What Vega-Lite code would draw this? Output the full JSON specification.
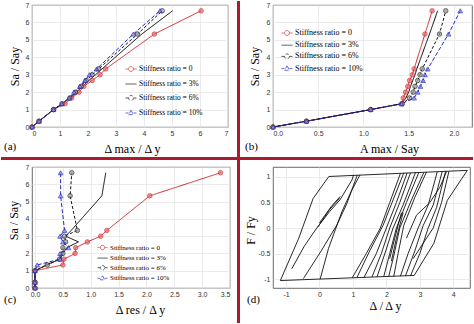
{
"$schema":"https://vega.github.io/schema/vega-lite/v6.json",
"padding":0,
"background":"white",
"columns":2,
"spacing":{"row":40,"column":43},
"bounds":"flush",
"align":"none",
"resolve":{"scale":{"color":"independent","strokeDash":"independent","shape":"independent"},"legend":{"color":"independent","strokeDash":"independent","shape":"independent"}},
"config":{
"view":{"stroke":"#444444","strokeWidth":0.8},
"axis":{"labelFont":"Liberation Sans","labelFontSize":7,"labelColor":"#333333","ticks":false,"domain":false,"grid":true,"gridColor":"#e2e2e2","gridWidth":0.7,"titleFont":"Liberation Serif","titleFontSize":12,"titleFontWeight":"normal","titleColor":"#000000"},
"legend":{"labelFont":"Liberation Serif","labelColor":"#000000","symbolStrokeWidth":1,"labelOffset":2,"padding":0},
"title":{"font":"Liberation Serif","fontSize":11,"fontWeight":"normal","color":"#000000"}
},
"datasets":{
"a":[
{"s":"Stiffness ratio = 0","x":0,"y":0},{"s":"Stiffness ratio = 0","x":0.25,"y":0.333},{"s":"Stiffness ratio = 0","x":0.77,"y":1},{"s":"Stiffness ratio = 0","x":1.18,"y":1.333},{"s":"Stiffness ratio = 0","x":1.42,"y":1.667},{"s":"Stiffness ratio = 0","x":1.68,"y":2},{"s":"Stiffness ratio = 0","x":1.85,"y":2.333},{"s":"Stiffness ratio = 0","x":2.15,"y":2.667},{"s":"Stiffness ratio = 0","x":2.43,"y":3},{"s":"Stiffness ratio = 0","x":2.63,"y":3.333},{"s":"Stiffness ratio = 0","x":4.37,"y":5.333},{"s":"Stiffness ratio = 0","x":6.04,"y":6.667},
{"s":"Stiffness ratio = 3%","x":0,"y":0},{"s":"Stiffness ratio = 3%","x":0.25,"y":0.333},{"s":"Stiffness ratio = 3%","x":0.77,"y":1},{"s":"Stiffness ratio = 3%","x":1.08,"y":1.333},{"s":"Stiffness ratio = 3%","x":1.37,"y":1.667},{"s":"Stiffness ratio = 3%","x":1.6,"y":2},{"s":"Stiffness ratio = 3%","x":1.8,"y":2.333},{"s":"Stiffness ratio = 3%","x":2.03,"y":2.667},{"s":"Stiffness ratio = 3%","x":2.27,"y":3},{"s":"Stiffness ratio = 3%","x":2.5,"y":3.333},{"s":"Stiffness ratio = 3%","x":3.92,"y":5.333},{"s":"Stiffness ratio = 3%","x":5.02,"y":6.667},
{"s":"Stiffness ratio = 6%","x":0,"y":0},{"s":"Stiffness ratio = 6%","x":0.25,"y":0.333},{"s":"Stiffness ratio = 6%","x":0.77,"y":1},{"s":"Stiffness ratio = 6%","x":1.07,"y":1.333},{"s":"Stiffness ratio = 6%","x":1.35,"y":1.667},{"s":"Stiffness ratio = 6%","x":1.55,"y":2},{"s":"Stiffness ratio = 6%","x":1.75,"y":2.333},{"s":"Stiffness ratio = 6%","x":1.93,"y":2.667},{"s":"Stiffness ratio = 6%","x":2.15,"y":3},{"s":"Stiffness ratio = 6%","x":2.38,"y":3.333},{"s":"Stiffness ratio = 6%","x":3.77,"y":5.333},{"s":"Stiffness ratio = 6%","x":4.65,"y":6.667},
{"s":"Stiffness ratio = 10%","x":0,"y":0},{"s":"Stiffness ratio = 10%","x":0.25,"y":0.333},{"s":"Stiffness ratio = 10%","x":0.77,"y":1},{"s":"Stiffness ratio = 10%","x":1.06,"y":1.333},{"s":"Stiffness ratio = 10%","x":1.33,"y":1.667},{"s":"Stiffness ratio = 10%","x":1.5,"y":2},{"s":"Stiffness ratio = 10%","x":1.71,"y":2.333},{"s":"Stiffness ratio = 10%","x":1.89,"y":2.667},{"s":"Stiffness ratio = 10%","x":2.05,"y":3},{"s":"Stiffness ratio = 10%","x":2.31,"y":3.333},{"s":"Stiffness ratio = 10%","x":3.62,"y":5.333},{"s":"Stiffness ratio = 10%","x":4.57,"y":6.667}
],
"b":[
{"s":"Stiffness ratio = 0","x":0,"y":0},{"s":"Stiffness ratio = 0","x":0.37,"y":0.333},{"s":"Stiffness ratio = 0","x":1.08,"y":1},{"s":"Stiffness ratio = 0","x":1.42,"y":1.333},{"s":"Stiffness ratio = 0","x":1.44,"y":1.667},{"s":"Stiffness ratio = 0","x":1.465,"y":2},{"s":"Stiffness ratio = 0","x":1.49,"y":2.333},{"s":"Stiffness ratio = 0","x":1.51,"y":2.667},{"s":"Stiffness ratio = 0","x":1.54,"y":3},{"s":"Stiffness ratio = 0","x":1.56,"y":3.333},{"s":"Stiffness ratio = 0","x":1.68,"y":5.333},{"s":"Stiffness ratio = 0","x":1.76,"y":6.667},
{"s":"Stiffness ratio = 3%","x":0,"y":0},{"s":"Stiffness ratio = 3%","x":0.37,"y":0.333},{"s":"Stiffness ratio = 3%","x":1.08,"y":1},{"s":"Stiffness ratio = 3%","x":1.42,"y":1.333},{"s":"Stiffness ratio = 3%","x":1.47,"y":1.667},{"s":"Stiffness ratio = 3%","x":1.5,"y":2},{"s":"Stiffness ratio = 3%","x":1.52,"y":2.333},{"s":"Stiffness ratio = 3%","x":1.545,"y":2.667},{"s":"Stiffness ratio = 3%","x":1.57,"y":3},{"s":"Stiffness ratio = 3%","x":1.59,"y":3.333},{"s":"Stiffness ratio = 3%","x":1.73,"y":5.333},{"s":"Stiffness ratio = 3%","x":1.82,"y":6.667},
{"s":"Stiffness ratio = 6%","x":0,"y":0},{"s":"Stiffness ratio = 6%","x":0.37,"y":0.333},{"s":"Stiffness ratio = 6%","x":1.08,"y":1},{"s":"Stiffness ratio = 6%","x":1.43,"y":1.333},{"s":"Stiffness ratio = 6%","x":1.51,"y":1.667},{"s":"Stiffness ratio = 6%","x":1.55,"y":2},{"s":"Stiffness ratio = 6%","x":1.57,"y":2.333},{"s":"Stiffness ratio = 6%","x":1.6,"y":2.667},{"s":"Stiffness ratio = 6%","x":1.625,"y":3},{"s":"Stiffness ratio = 6%","x":1.65,"y":3.333},{"s":"Stiffness ratio = 6%","x":1.84,"y":5.333},{"s":"Stiffness ratio = 6%","x":1.91,"y":6.667},
{"s":"Stiffness ratio = 10%","x":0,"y":0},{"s":"Stiffness ratio = 10%","x":0.37,"y":0.333},{"s":"Stiffness ratio = 10%","x":1.08,"y":1},{"s":"Stiffness ratio = 10%","x":1.42,"y":1.333},{"s":"Stiffness ratio = 10%","x":1.56,"y":1.667},{"s":"Stiffness ratio = 10%","x":1.6,"y":2},{"s":"Stiffness ratio = 10%","x":1.63,"y":2.333},{"s":"Stiffness ratio = 10%","x":1.66,"y":2.667},{"s":"Stiffness ratio = 10%","x":1.68,"y":3},{"s":"Stiffness ratio = 10%","x":1.71,"y":3.333},{"s":"Stiffness ratio = 10%","x":1.94,"y":5.333},{"s":"Stiffness ratio = 10%","x":2.07,"y":6.667}
],
"c":[
{"s":"Stiffness ratio = 0","x":0,"y":0},{"s":"Stiffness ratio = 0","x":0,"y":0.333},{"s":"Stiffness ratio = 0","x":0,"y":1},{"s":"Stiffness ratio = 0","x":0.5,"y":1.333},{"s":"Stiffness ratio = 0","x":0.52,"y":1.667},{"s":"Stiffness ratio = 0","x":0.72,"y":2},{"s":"Stiffness ratio = 0","x":0.73,"y":2.333},{"s":"Stiffness ratio = 0","x":0.94,"y":2.667},{"s":"Stiffness ratio = 0","x":1.18,"y":3},{"s":"Stiffness ratio = 0","x":1.29,"y":3.333},{"s":"Stiffness ratio = 0","x":2.06,"y":5.333},{"s":"Stiffness ratio = 0","x":3.33,"y":6.667},
{"s":"Stiffness ratio = 3%","x":0,"y":0},{"s":"Stiffness ratio = 3%","x":0,"y":0.333},{"s":"Stiffness ratio = 3%","x":0,"y":1},{"s":"Stiffness ratio = 3%","x":0.2,"y":1.333},{"s":"Stiffness ratio = 3%","x":0.45,"y":1.667},{"s":"Stiffness ratio = 3%","x":0.5,"y":2},{"s":"Stiffness ratio = 3%","x":0.57,"y":2.333},{"s":"Stiffness ratio = 3%","x":0.78,"y":2.667},{"s":"Stiffness ratio = 3%","x":0.55,"y":3},{"s":"Stiffness ratio = 3%","x":0.65,"y":3.333},{"s":"Stiffness ratio = 3%","x":1.2,"y":5.333},{"s":"Stiffness ratio = 3%","x":1.27,"y":6.667},
{"s":"Stiffness ratio = 6%","x":0,"y":0},{"s":"Stiffness ratio = 6%","x":0,"y":0.333},{"s":"Stiffness ratio = 6%","x":0,"y":1},{"s":"Stiffness ratio = 6%","x":0.22,"y":1.333},{"s":"Stiffness ratio = 6%","x":0.44,"y":1.667},{"s":"Stiffness ratio = 6%","x":0.5,"y":2},{"s":"Stiffness ratio = 6%","x":0.5,"y":2.333},{"s":"Stiffness ratio = 6%","x":0.55,"y":2.667},{"s":"Stiffness ratio = 6%","x":0.53,"y":3},{"s":"Stiffness ratio = 6%","x":0.76,"y":3.333},{"s":"Stiffness ratio = 6%","x":0.63,"y":5.333},{"s":"Stiffness ratio = 6%","x":0.66,"y":6.667},
{"s":"Stiffness ratio = 10%","x":0,"y":0},{"s":"Stiffness ratio = 10%","x":0,"y":0.333},{"s":"Stiffness ratio = 10%","x":0,"y":1},{"s":"Stiffness ratio = 10%","x":0.04,"y":1.333},{"s":"Stiffness ratio = 10%","x":0.45,"y":1.667},{"s":"Stiffness ratio = 10%","x":0.45,"y":2},{"s":"Stiffness ratio = 10%","x":0.6,"y":2.333},{"s":"Stiffness ratio = 10%","x":0.5,"y":2.667},{"s":"Stiffness ratio = 10%","x":0.45,"y":3},{"s":"Stiffness ratio = 10%","x":0.53,"y":3.333},{"s":"Stiffness ratio = 10%","x":0.46,"y":5.333},{"s":"Stiffness ratio = 10%","x":0.46,"y":6.667}
],
"d":[
{"k":1,"i":1,"x":-1.17,"y":-1.03},{"k":1,"i":2,"x":-0.62,"y":-0.2},{"k":1,"i":3,"x":-0.19,"y":0.58},{"k":1,"i":4,"x":0.28,"y":1.01},{"k":1,"i":5,"x":4.42,"y":1.13},{"k":1,"i":6,"x":3.82,"y":0.54},{"k":1,"i":7,"x":3.42,"y":-0.3},{"k":1,"i":8,"x":2.83,"y":-0.93},{"k":1,"i":9,"x":-1.17,"y":-1.03},
{"k":2,"i":1,"x":-0.83,"y":-0.8},{"k":2,"i":2,"x":-0.45,"y":-0.35},{"k":2,"i":3,"x":-0.08,"y":0},{"k":2,"i":4,"x":0.3,"y":0.32},{"k":2,"i":5,"x":0.61,"y":0.55},{"k":2,"i":6,"x":0.97,"y":0.94},{"k":2,"i":7,"x":1.02,"y":1.04},
{"k":3,"i":1,"x":-0.48,"y":-0.99},{"k":3,"i":2,"x":0.05,"y":-0.45},{"k":3,"i":3,"x":0.52,"y":0.06},{"k":3,"i":4,"x":0.82,"y":0.48},{"k":3,"i":5,"x":1.13,"y":1.04},
{"k":4,"i":1,"x":0.02,"y":-1},{"k":4,"i":2,"x":0.27,"y":-0.4},{"k":4,"i":3,"x":0.67,"y":0.32},{"k":4,"i":4,"x":0.95,"y":0.72},{"k":4,"i":5,"x":1.21,"y":1.04},
{"k":5,"i":1,"x":-0.05,"y":0.02},{"k":5,"i":2,"x":0.3,"y":0.36},{"k":5,"i":3,"x":0.6,"y":0.58},
{"k":6,"i":1,"x":0,"y":0.1},{"k":6,"i":2,"x":0.35,"y":0.42},{"k":6,"i":3,"x":0.62,"y":0.62},
{"k":7,"i":1,"x":0.98,"y":-0.975},{"k":7,"i":2,"x":1.4,"y":-0.5},{"k":7,"i":3,"x":1.82,"y":0},{"k":7,"i":4,"x":2.1,"y":0.5},{"k":7,"i":5,"x":2.42,"y":1.07},
{"k":8,"i":1,"x":1.12,"y":-0.97},{"k":8,"i":2,"x":1.5,"y":-0.45},{"k":8,"i":3,"x":1.9,"y":0.05},{"k":8,"i":4,"x":2.2,"y":0.55},{"k":8,"i":5,"x":2.52,"y":1.08},
{"k":9,"i":1,"x":1.33,"y":-0.97},{"k":9,"i":2,"x":1.7,"y":-0.5},{"k":9,"i":3,"x":2,"y":0},{"k":9,"i":4,"x":2.3,"y":0.5},{"k":9,"i":5,"x":2.62,"y":1.08},
{"k":10,"i":1,"x":1.57,"y":-0.96},{"k":10,"i":2,"x":1.85,"y":-0.5},{"k":10,"i":3,"x":2.1,"y":0},{"k":10,"i":4,"x":2.4,"y":0.5},{"k":10,"i":5,"x":2.72,"y":1.08},
{"k":11,"i":1,"x":1.72,"y":-0.96},{"k":11,"i":2,"x":1.98,"y":-0.45},{"k":11,"i":3,"x":2.2,"y":0},{"k":11,"i":4,"x":2.5,"y":0.45},{"k":11,"i":5,"x":2.87,"y":1.09},
{"k":12,"i":1,"x":1.92,"y":-0.955},{"k":12,"i":2,"x":2.1,"y":-0.5},{"k":12,"i":3,"x":2.3,"y":0},{"k":12,"i":4,"x":2.6,"y":0.5},{"k":12,"i":5,"x":2.97,"y":1.09},
{"k":13,"i":1,"x":2.07,"y":-0.95},{"k":13,"i":2,"x":2.22,"y":-0.55},{"k":13,"i":3,"x":2.4,"y":0},{"k":13,"i":4,"x":2.75,"y":0.55},{"k":13,"i":5,"x":3.12,"y":1.09},
{"k":14,"i":1,"x":2.22,"y":-0.95},{"k":14,"i":2,"x":2.35,"y":-0.5},{"k":14,"i":3,"x":2.52,"y":0.05},{"k":14,"i":4,"x":2.85,"y":0.6},{"k":14,"i":5,"x":3.2,"y":1.1},
{"k":15,"i":1,"x":2.42,"y":-0.945},{"k":15,"i":2,"x":2.65,"y":-0.5},{"k":15,"i":3,"x":2.95,"y":0},{"k":15,"i":4,"x":3.25,"y":0.45},{"k":15,"i":5,"x":3.52,"y":1.1},
{"k":16,"i":1,"x":2.57,"y":-0.94},{"k":16,"i":2,"x":2.85,"y":-0.45},{"k":16,"i":3,"x":3.1,"y":0.05},{"k":16,"i":4,"x":3.4,"y":0.45},{"k":16,"i":5,"x":3.67,"y":1.11},
{"k":17,"i":1,"x":2.72,"y":-0.94},{"k":17,"i":2,"x":3,"y":-0.5},{"k":17,"i":3,"x":3.25,"y":0},{"k":17,"i":4,"x":3.5,"y":0.4},{"k":17,"i":5,"x":3.77,"y":1.11},
{"k":18,"i":1,"x":2.8,"y":-0.6},{"k":18,"i":2,"x":3.4,"y":0},{"k":18,"i":3,"x":3.65,"y":0.5},{"k":18,"i":4,"x":3.87,"y":1.11},
{"k":19,"i":1,"x":2.1,"y":-0.6},{"k":19,"i":2,"x":2.25,"y":-0.2},{"k":19,"i":3,"x":2.45,"y":0.3},
{"k":20,"i":1,"x":2.15,"y":-0.65},{"k":20,"i":2,"x":2.3,"y":-0.2},{"k":20,"i":3,"x":2.5,"y":0.3},
{"k":21,"i":1,"x":2.6,"y":-0.2},{"k":21,"i":2,"x":2.9,"y":0.25},{"k":21,"i":3,"x":3.3,"y":0.5},{"k":21,"i":4,"x":3.6,"y":0.8},{"k":21,"i":5,"x":3.8,"y":1.11}
]
},
"concat":[
{
"width":196,"height":122,
"data":{"name":"a"},
"title":{"text":"(a)","orient":"bottom","anchor":"start","frame":"group","baseline":"top","offset":-182,"dx":-28},
"encoding":{
"x":{"field":"x","type":"quantitative","scale":{"domain":[0,7],"nice":false,"zero":false},"axis":{"values":[0,1,2,3,4,5,6,7],"title":"Δ max / Δ y","titleX":100,"titleY":25,"titleBaseline":"alphabetic","labelPadding":2}},
"y":{"field":"y","type":"quantitative","scale":{"domain":[0,7],"nice":false,"zero":false},"axis":{"values":[0,1,2,3,4,5,6,7],"title":"Sa / Say","titleX":-14,"titleY":61,"titleBaseline":"alphabetic","labelPadding":3}}
},
"layer":[
{"mark":{"type":"line","strokeWidth":1},"encoding":{
"color":{"field":"s","type":"nominal","scale":{"domain":["Stiffness ratio = 0","Stiffness ratio = 3%","Stiffness ratio = 6%","Stiffness ratio = 10%"],"range":["#d0262c","#000000","#111111","#2328c4"]},"legend":{"orient":"none","legendX":93,"legendY":58,"direction":"vertical","title":null,"symbolSize":121,"rowPadding":4,"labelFontSize":7.5}},
"strokeDash":{"field":"s","type":"nominal","scale":{"domain":["Stiffness ratio = 0","Stiffness ratio = 3%","Stiffness ratio = 6%","Stiffness ratio = 10%"],"range":[[1,0],[1,0],[3,2],[4,2]]},"legend":{"orient":"none","legendX":93,"legendY":58,"direction":"vertical","title":null,"symbolSize":121,"rowPadding":4,"labelFontSize":7.5}},
"order":{"field":"y","type":"quantitative"}}},
{"transform":[{"filter":"false"}],"mark":{"type":"point","filled":false,"strokeWidth":1},"encoding":{
"color":{"field":"s","type":"nominal","scale":{"domain":["Stiffness ratio = 0","Stiffness ratio = 3%","Stiffness ratio = 6%","Stiffness ratio = 10%"],"range":["#d0262c","#000000","#111111","#2328c4"]},"legend":{"orient":"none","legendX":93,"legendY":58,"direction":"vertical","title":null,"symbolSize":121,"rowPadding":4,"labelFontSize":7.5}},
"strokeDash":{"field":"s","type":"nominal","scale":{"domain":["Stiffness ratio = 0","Stiffness ratio = 3%","Stiffness ratio = 6%","Stiffness ratio = 10%"],"range":[[1,0],[1,0],[3,2],[4,2]]},"legend":{"orient":"none","legendX":93,"legendY":58,"direction":"vertical","title":null,"symbolSize":121,"rowPadding":4,"labelFontSize":7.5}},
"shape":{"field":"s","type":"nominal","scale":{"domain":["Stiffness ratio = 0","Stiffness ratio = 3%","Stiffness ratio = 6%","Stiffness ratio = 10%"],"range":["M-1,0L-0.45,0M0.45,0L1,0M0.45,0A0.45,0.45,0,1,1,-0.45,0A0.45,0.45,0,1,1,0.45,0","M-1,0L1,0","M-1,0L-0.45,0M0.45,0L1,0M0.45,0A0.45,0.45,0,1,1,-0.45,0A0.45,0.45,0,1,1,0.45,0","M-1,0L-0.45,0M0.45,0L1,0M0,-0.5L0.45,0.3L-0.45,0.3Z"]},"legend":{"orient":"none","legendX":93,"legendY":58,"direction":"vertical","title":null,"symbolSize":121,"rowPadding":4,"labelFontSize":7.5}}}},
{"transform":[{"filter":"datum.s === 'Stiffness ratio = 0'"}],"mark":{"type":"point","shape":"circle","size":20,"filled":true,"fill":"#e46a6a","stroke":"#d0262c","strokeWidth":1}},
{"transform":[{"filter":"datum.s === 'Stiffness ratio = 6%'"}],"mark":{"type":"point","shape":"circle","size":20,"filled":true,"fill":"#9a9a9a","stroke":"#222222","strokeWidth":1}},
{"transform":[{"filter":"datum.s === 'Stiffness ratio = 10%'"}],"mark":{"type":"point","shape":"triangle-up","size":22,"filled":true,"fill":"#8088e4","stroke":"#2328c4","strokeWidth":1}},
{"mark":{"type":"rule","color":"#ac1a2f","strokeWidth":3,"strokeCap":"square","clip":false},"encoding":{"x":{"datum":7.375},"y":{"datum":7.1148},"y2":{"datum":-11.131}}},
{"mark":{"type":"rule","color":"#ac1a2f","strokeWidth":3,"strokeCap":"square","clip":false},"encoding":{"y":{"datum":-1.8074},"x":{"datum":-1.0357},"x2":{"datum":15.679}}}
]
},
{
"width":199,"height":122,
"data":{"name":"b"},
"title":{"text":"(b)","orient":"bottom","anchor":"start","frame":"group","baseline":"top","offset":-13,"dx":-28},
"encoding":{
"x":{"field":"x","type":"quantitative","scale":{"domain":[0,2.2],"nice":false,"zero":false},"axis":{"values":[0,0.5,1,1.5,2],"title":"A max / Say","titleX":116,"titleY":25,"titleBaseline":"alphabetic","labelPadding":2}},
"y":{"field":"y","type":"quantitative","scale":{"domain":[0,7],"nice":false,"zero":false},"axis":{"values":[0,1,2,3,4,5,6,7],"title":"Sa / Say","titleX":-15,"titleY":61,"titleBaseline":"alphabetic","labelPadding":3}}
},
"layer":[
{"mark":{"type":"line","strokeWidth":1},"encoding":{
"color":{"field":"s","type":"nominal","scale":{"domain":["Stiffness ratio = 0","Stiffness ratio = 3%","Stiffness ratio = 6%","Stiffness ratio = 10%"],"range":["#d0262c","#000000","#111111","#2328c4"]},"legend":{"orient":"none","legendX":8,"legendY":22,"direction":"vertical","title":null,"symbolSize":121,"rowPadding":1.2,"labelFontSize":8}},
"strokeDash":{"field":"s","type":"nominal","scale":{"domain":["Stiffness ratio = 0","Stiffness ratio = 3%","Stiffness ratio = 6%","Stiffness ratio = 10%"],"range":[[1,0],[1,0],[3,2],[4,2]]},"legend":{"orient":"none","legendX":8,"legendY":22,"direction":"vertical","title":null,"symbolSize":121,"rowPadding":1.2,"labelFontSize":8}},
"order":{"field":"y","type":"quantitative"}}},
{"transform":[{"filter":"false"}],"mark":{"type":"point","filled":false,"strokeWidth":1},"encoding":{
"color":{"field":"s","type":"nominal","scale":{"domain":["Stiffness ratio = 0","Stiffness ratio = 3%","Stiffness ratio = 6%","Stiffness ratio = 10%"],"range":["#d0262c","#000000","#111111","#2328c4"]},"legend":{"orient":"none","legendX":8,"legendY":22,"direction":"vertical","title":null,"symbolSize":121,"rowPadding":1.2,"labelFontSize":8}},
"strokeDash":{"field":"s","type":"nominal","scale":{"domain":["Stiffness ratio = 0","Stiffness ratio = 3%","Stiffness ratio = 6%","Stiffness ratio = 10%"],"range":[[1,0],[1,0],[3,2],[4,2]]},"legend":{"orient":"none","legendX":8,"legendY":22,"direction":"vertical","title":null,"symbolSize":121,"rowPadding":1.2,"labelFontSize":8}},
"shape":{"field":"s","type":"nominal","scale":{"domain":["Stiffness ratio = 0","Stiffness ratio = 3%","Stiffness ratio = 6%","Stiffness ratio = 10%"],"range":["M-1,0L-0.45,0M0.45,0L1,0M0.45,0A0.45,0.45,0,1,1,-0.45,0A0.45,0.45,0,1,1,0.45,0","M-1,0L1,0","M-1,0L-0.45,0M0.45,0L1,0M0.45,0A0.45,0.45,0,1,1,-0.45,0A0.45,0.45,0,1,1,0.45,0","M-1,0L-0.45,0M0.45,0L1,0M0,-0.5L0.45,0.3L-0.45,0.3Z"]},"legend":{"orient":"none","legendX":8,"legendY":22,"direction":"vertical","title":null,"symbolSize":121,"rowPadding":1.2,"labelFontSize":8}}}},
{"transform":[{"filter":"datum.s === 'Stiffness ratio = 0'"}],"mark":{"type":"point","shape":"circle","size":20,"filled":true,"fill":"#e46a6a","stroke":"#d0262c","strokeWidth":1}},
{"transform":[{"filter":"datum.s === 'Stiffness ratio = 6%'"}],"mark":{"type":"point","shape":"circle","size":20,"filled":true,"fill":"#9a9a9a","stroke":"#222222","strokeWidth":1}},
{"transform":[{"filter":"datum.s === 'Stiffness ratio = 10%'"}],"mark":{"type":"point","shape":"triangle-up","size":22,"filled":true,"fill":"#8088e4","stroke":"#2328c4","strokeWidth":1}}
]
},
{
"width":198,"height":121,
"data":{"name":"c"},
"title":{"text":"(c)","orient":"bottom","anchor":"start","frame":"group","baseline":"top","offset":-21,"dx":-28},
"encoding":{
"x":{"field":"x","type":"quantitative","scale":{"domain":[-0.054,3.5],"nice":false,"zero":false},"axis":{"values":[0,0.5,1,1.5,2,2.5,3,3.5],"title":"Δ res / Δ y","titleX":108,"titleY":25,"titleBaseline":"alphabetic","labelPadding":2}},
"y":{"field":"y","type":"quantitative","scale":{"domain":[0,7],"nice":false,"zero":false},"axis":{"values":[0,1,2,3,4,5,6,7],"title":"Sa / Say","titleX":-15,"titleY":53,"titleBaseline":"alphabetic","labelPadding":3}}
},
"layer":[
{"mark":{"type":"line","strokeWidth":1},"encoding":{
"color":{"field":"s","type":"nominal","scale":{"domain":["Stiffness ratio = 0","Stiffness ratio = 3%","Stiffness ratio = 6%","Stiffness ratio = 10%"],"range":["#d0262c","#000000","#111111","#2328c4"]},"legend":{"orient":"none","legendX":65,"legendY":75,"direction":"vertical","title":null,"symbolSize":100,"rowPadding":0.6,"labelFontSize":7}},
"strokeDash":{"field":"s","type":"nominal","scale":{"domain":["Stiffness ratio = 0","Stiffness ratio = 3%","Stiffness ratio = 6%","Stiffness ratio = 10%"],"range":[[1,0],[1,0],[3,2],[4,2]]},"legend":{"orient":"none","legendX":65,"legendY":75,"direction":"vertical","title":null,"symbolSize":100,"rowPadding":0.6,"labelFontSize":7}},
"order":{"field":"y","type":"quantitative"}}},
{"transform":[{"filter":"false"}],"mark":{"type":"point","filled":false,"strokeWidth":1},"encoding":{
"color":{"field":"s","type":"nominal","scale":{"domain":["Stiffness ratio = 0","Stiffness ratio = 3%","Stiffness ratio = 6%","Stiffness ratio = 10%"],"range":["#d0262c","#000000","#111111","#2328c4"]},"legend":{"orient":"none","legendX":65,"legendY":75,"direction":"vertical","title":null,"symbolSize":100,"rowPadding":0.6,"labelFontSize":7}},
"strokeDash":{"field":"s","type":"nominal","scale":{"domain":["Stiffness ratio = 0","Stiffness ratio = 3%","Stiffness ratio = 6%","Stiffness ratio = 10%"],"range":[[1,0],[1,0],[3,2],[4,2]]},"legend":{"orient":"none","legendX":65,"legendY":75,"direction":"vertical","title":null,"symbolSize":100,"rowPadding":0.6,"labelFontSize":7}},
"shape":{"field":"s","type":"nominal","scale":{"domain":["Stiffness ratio = 0","Stiffness ratio = 3%","Stiffness ratio = 6%","Stiffness ratio = 10%"],"range":["M-1,0L-0.45,0M0.45,0L1,0M0.45,0A0.45,0.45,0,1,1,-0.45,0A0.45,0.45,0,1,1,0.45,0","M-1,0L1,0","M-1,0L-0.45,0M0.45,0L1,0M0.45,0A0.45,0.45,0,1,1,-0.45,0A0.45,0.45,0,1,1,0.45,0","M-1,0L-0.45,0M0.45,0L1,0M0,-0.5L0.45,0.3L-0.45,0.3Z"]},"legend":{"orient":"none","legendX":65,"legendY":75,"direction":"vertical","title":null,"symbolSize":100,"rowPadding":0.6,"labelFontSize":7}}}},
{"transform":[{"filter":"datum.s === 'Stiffness ratio = 0'"}],"mark":{"type":"point","shape":"circle","size":20,"filled":true,"fill":"#e46a6a","stroke":"#d0262c","strokeWidth":1}},
{"transform":[{"filter":"datum.s === 'Stiffness ratio = 6%'"}],"mark":{"type":"point","shape":"circle","size":20,"filled":true,"fill":"#9a9a9a","stroke":"#222222","strokeWidth":1}},
{"transform":[{"filter":"datum.s === 'Stiffness ratio = 10%'"}],"mark":{"type":"point","shape":"triangle-up","size":22,"filled":true,"fill":"#8088e4","stroke":"#2328c4","strokeWidth":1}}
]
},
{
"width":197,"height":121,
"data":{"name":"d"},
"title":{"text":"(d)","orient":"bottom","anchor":"start","frame":"group","baseline":"top","offset":-17,"dx":-26},
"mark":{"type":"line","color":"#111111","strokeWidth":0.9},
"encoding":{
"x":{"field":"x","type":"quantitative","scale":{"domain":[-1.39,4.5],"nice":false,"zero":false},"axis":{"values":[-1,0,1,2,3,4],"labelExpr":"'' + datum.value","title":"Δ / Δ y","titleX":112,"titleY":21,"titleBaseline":"alphabetic","labelPadding":2}},
"y":{"field":"y","type":"quantitative","scale":{"domain":[-1.176,1.196],"nice":false,"zero":false},"axis":{"values":[-1,-0.5,0,0.5,1],"labelExpr":"'' + datum.value","title":"F / Fy","titleX":-19,"titleY":63,"titleBaseline":"alphabetic","labelPadding":3}},
"detail":{"field":"k","type":"nominal"},
"order":{"field":"i","type":"quantitative"}
}
}
]
}
